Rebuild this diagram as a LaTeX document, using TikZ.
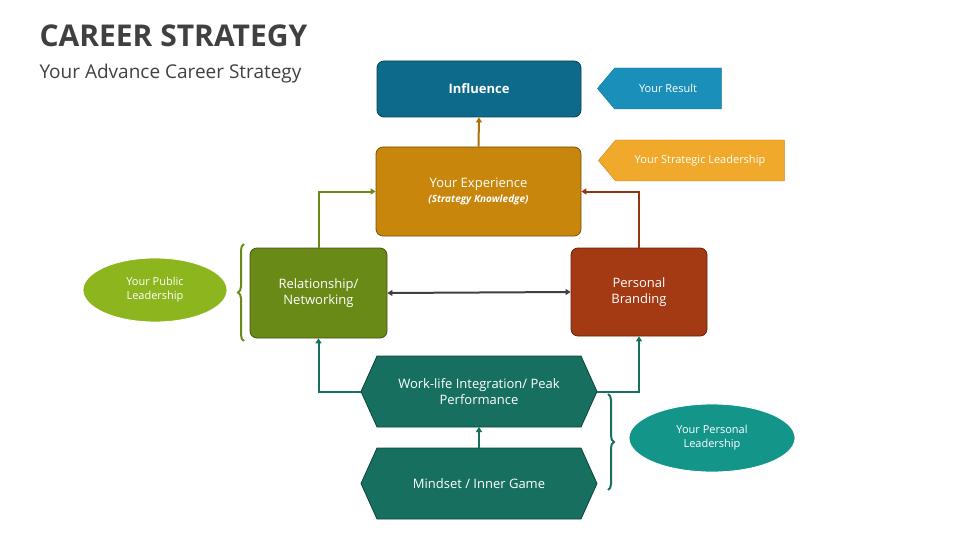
\documentclass[tikz,border=0pt]{standalone}
\usepackage{fontspec}
\setmainfont{Open Sans}
\usetikzlibrary{shapes.geometric,shapes.symbols,decorations.pathreplacing,calc,arrows.meta}
\definecolor{infl}{HTML}{0E6A8A}
\definecolor{res}{HTML}{1A8FBA}
\definecolor{exp}{HTML}{C8860D}
\definecolor{strat}{HTML}{F0A92A}
\definecolor{rel}{HTML}{6A8A17}
\definecolor{pers}{HTML}{A33A14}
\definecolor{hex}{HTML}{17705F}
\definecolor{pub}{HTML}{8DB51E}
\definecolor{pl}{HTML}{14958A}
\definecolor{ttl}{HTML}{404040}
\begin{document}
\begin{tikzpicture}[x=1pt,y=-1pt,
 box/.style={rounded corners=7pt,draw=#1!60!black,fill=#1,line width=0.8pt,text=white,align=center,font=\fontsize{13}{16}\selectfont},
 tag/.style={signal,signal to=west,signal pointer angle=100,fill=#1,draw=#1!80!black,text=white,font=\fontsize{11}{13}\selectfont,minimum height=41pt,inner xsep=8pt},
 hx/.style={regular polygon,regular polygon sides=6,shape aspect=1},
 conn/.style={line width=2pt,-{Triangle[length=5pt,width=6pt]}},
 ell/.style={ellipse,fill=#1,draw=white,line width=0.8pt,text=white,align=center,font=\fontsize{11}{14}\selectfont}]
\useasboundingbox (0,0) rectangle (960,540);
\node[anchor=west,font=\bfseries\fontsize{30}{34}\selectfont,text=ttl] (t) at (36,36) {CAREER STRATEGY};
\node[anchor=west,font=\fontsize{19}{22}\selectfont,text=ttl] (s) at (36,74) {Your Advance Career Strategy};
\node[box=infl,minimum width=204pt,minimum height=56pt,font=\bfseries\fontsize{13}{16}\selectfont] (inf) at (479,89) {Influence};
\node[box=exp,minimum width=205pt,minimum height=89pt] (exp) at (478.5,191.5) {Your Experience\\[-1pt]{\fontsize{10}{12}\selectfont\itshape\bfseries (Strategy Knowledge)}};
\node[box=rel,minimum width=137pt,minimum height=90pt] (rel) at (318.5,293) {Relationship/\\Networking};
\node[box=pers,minimum width=136pt,minimum height=88pt] (pers) at (639,292) {Personal\\Branding};
\node[tag=res,minimum width=124pt] (yr) at (668,88.5) {Your Result};
\node[tag=strat,minimum width=186pt] (ys) at (700,160.5) {Your Strategic Leadership};
\path[fill=hex,draw=hex!60!black,line width=0.8pt] (361,391.5) -- (377,356) -- (581,356) -- (597,391.5) -- (581,427) -- (377,427) -- cycle;
\node[text=white,align=center,font=\fontsize{13}{16}\selectfont] (wl) at (479,391.5) {Work-life Integration/ Peak\\Performance};
\path[fill=hex,draw=hex!60!black,line width=0.8pt] (361,483.5) -- (377,448) -- (581,448) -- (597,483.5) -- (581,519) -- (377,519) -- cycle;
\node[text=white,font=\fontsize{13}{16}\selectfont] (mi) at (479,483.5) {Mindset / Inner Game};
\coordinate (wlt) at (479,356); \coordinate (wlb) at (479,427);
\coordinate (mit) at (479,448);
\coordinate (wll) at (361,391.5); \coordinate (wlr) at (597,391.5);
\node[ell=pub,minimum width=144pt,minimum height=64pt] (pub) at (155,290) {Your Public\\Leadership};
\node[ell=pl,minimum width=166pt,minimum height=68pt] (pl) at (712,438) {Your Personal\\Leadership};
% connectors
\draw[conn,draw=exp!85!black,color=exp!85!black] (exp.north) -- (inf.south);
\draw[conn,color=rel] (rel.north) |- (exp.west);
\draw[conn,color=pers!90!black] (pers.north) |- (exp.east);
\draw[line width=2pt,color=ttl,{Triangle[length=5pt,width=6pt]}-{Triangle[length=5pt,width=6pt]}] (rel.east) -- (pers.west);
\draw[conn,color=hex] (wll) -| (rel.south);
\draw[conn,color=hex] (wlr) -| (pers.south);
\draw[conn,color=hex] (mit) -- (wlb);
% braces
\coordinate (b1) at (244,341); \coordinate (b2) at (244,244);
\draw[rel,line width=2pt,decorate,decoration={brace,amplitude=6pt}] (b1) -- (b2);
\coordinate (b3) at (608,394); \coordinate (b4) at (608,490);
\draw[hex,line width=2pt,decorate,decoration={brace,amplitude=6pt}] (b3) -- (b4);
\end{tikzpicture}
\end{document}
